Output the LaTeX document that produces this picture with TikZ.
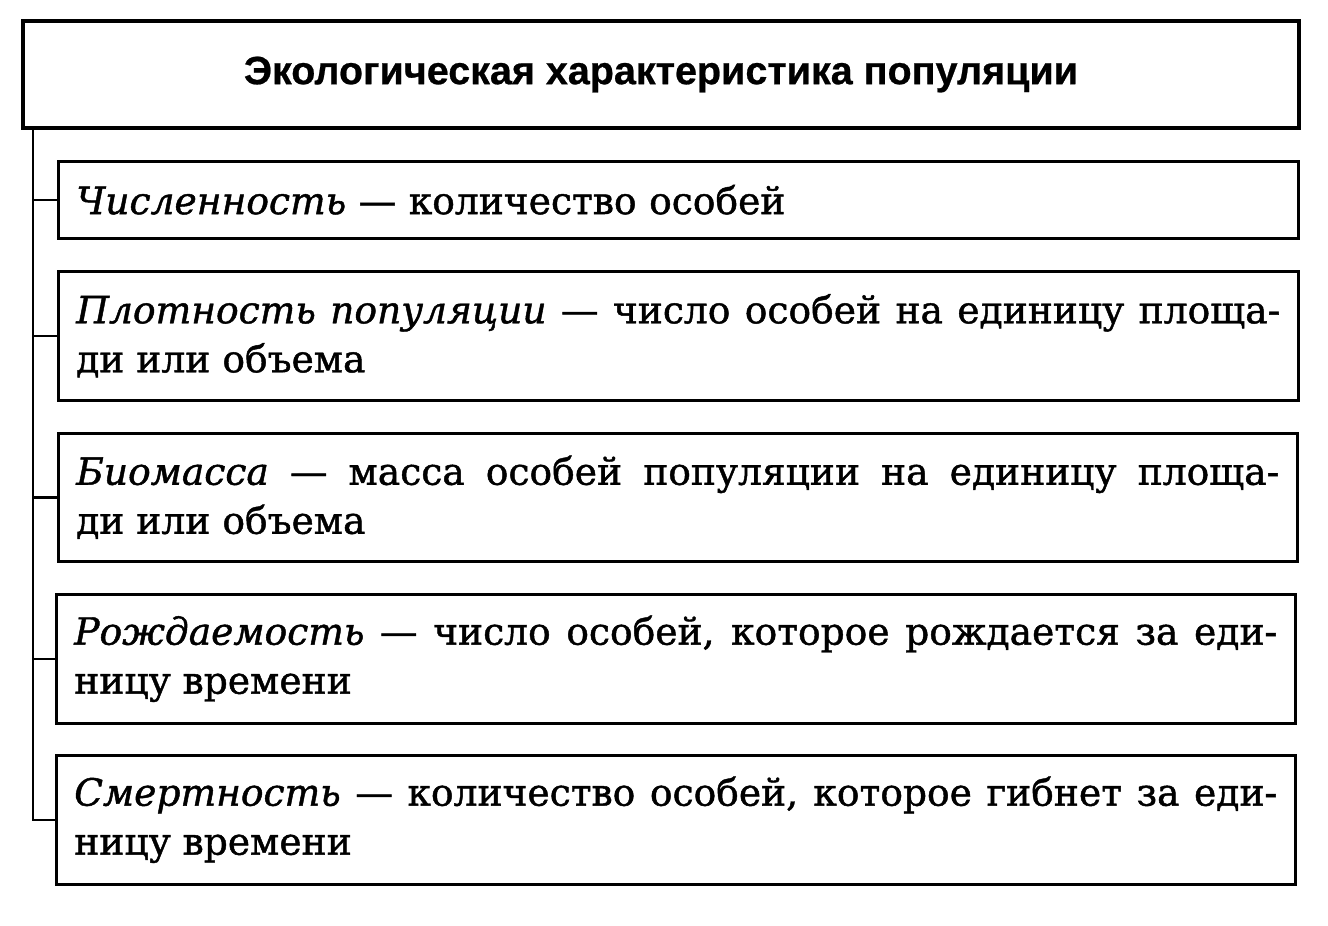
\documentclass[tikz,border=0pt]{standalone}
\usepackage{fontspec}
\setmainfont{DejaVu Serif}[
  BoldFont={DejaVu Serif}, BoldFeatures={FakeBold=1.2},
  BoldItalicFont={DejaVu Serif Italic}, BoldItalicFeatures={FakeBold=1.2}]
\setsansfont{Liberation Sans}[BoldFeatures={FakeBold=0.6}]
\begin{document}
\begin{tikzpicture}[x=1pt,y=-1pt]
\tikzset{
  titlebox/.style={draw, line width=4pt, rectangle, anchor=north west, inner sep=0pt,
    font=\sffamily\bfseries\fontsize{39.5}{42}\selectfont},
  card/.style={draw, line width=2.5pt, rectangle, anchor=north west, inner xsep=18pt, inner ysep=0pt,
    font=\bfseries\fontsize{37.6}{49}\selectfont, align=justify},
  conn/.style={draw, line width=2.5pt},
}
\useasboundingbox (0,0) rectangle (1328,926);
\node[titlebox, minimum width=1276pt, minimum height=107pt] (title) at (21,19)
  {Экологическая характеристика популяции};
\node[card, text width=1204pt, minimum height=77pt, align=left] (b1) at (57,160)
  {\textit{Численность} — количество особей};
\node[card, text width=1204pt, minimum height=129pt] (b2) at (57,270)
  {\textit{Плотность популяции} — число особей на единицу площа-\linebreak ди или объема};
\node[card, text width=1203pt, minimum height=128pt] (b3) at (57,432)
  {\textit{Биомасса} — масса особей популяции на единицу площа-\linebreak ди или объема};
\node[card, text width=1203pt, minimum height=129pt] (b4) at (55,593)
  {\rightskip=11pt\relax\textit{Рождаемость} — число особей, которое рождается за еди-\linebreak ницу времени};
\node[card, text width=1203pt, minimum height=129pt] (b5) at (55,754)
  {\rightskip=11pt\relax\textit{Смертность} — количество особей, которое гибнет за еди-\linebreak ницу времени};
\coordinate (trunk) at ([xshift=12pt]title.south west);
\draw[conn] (trunk) |- (b5.west);
\foreach \b in {b1,b2,b3,b4} {
  \draw[conn] (\b.west -| trunk) -- (\b.west);
}
\end{tikzpicture}
\end{document}
